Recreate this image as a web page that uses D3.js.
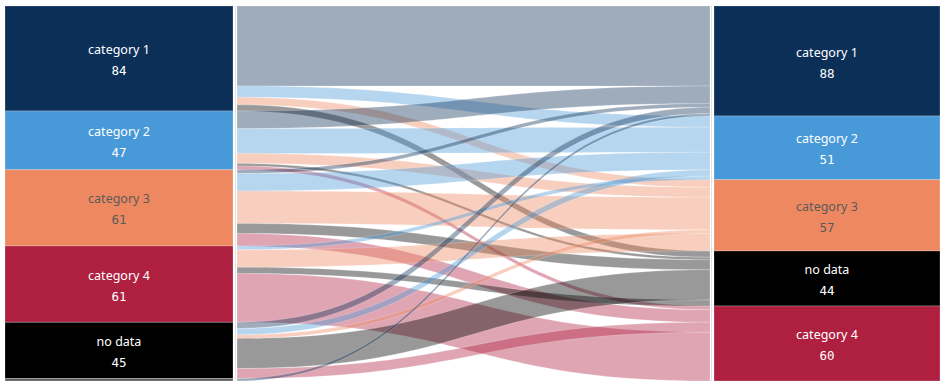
<!DOCTYPE html>
<html>
<head>
<meta charset="utf-8">
<script src="https://cdn.jsdelivr.net/npm/d3@7"></script>
<style>
  body { margin: 0; background: #fff; }
  .node-label { font-family: "Noto Sans", sans-serif; font-size: 12.5px; }
  .node-value { font-family: "DejaVu Sans Mono", monospace; font-size: 12.5px; }
</style>
</head>
<body>
<script>
const w = 941;
const h = 387;

// left column (sources), top to bottom
const leftCats = ["category 1", "category 2", "category 3", "category 4", "no data", "other"];
// right column (targets), top to bottom
const rightCats = ["category 1", "category 2", "category 3", "no data", "category 4"];

// flow values: rows = left categories, columns = right categories
const flowValues = [
  [64, 9, 6, 5, 0],
  [14, 20, 8, 2, 3],
  [3, 14, 26, 8, 10],
  [0, 3, 14, 5, 39],
  [5, 5, 3, 24, 8],
  [2, 0, 0, 0, 0]
];

const colors = {
  "category 1": "#0c2f58",
  "category 2": "#4899d8",
  "category 3": "#ed8860",
  "category 4": "#ae1f40",
  "no data": "#000000",
  "other": "#5e5e5e"
};
const darkText = { "category 3": "#5b5b5b" };

const leftTotals = flowValues.map(r => d3.sum(r));
const rightTotals = rightCats.map((c, j) => d3.sum(flowValues, r => r[j]));
const total = d3.sum(leftTotals);

const y = d3.scaleLinear().domain([0, total]).range([6, 381]);

const leftX = [5, 233], flowX = [237, 710], rightX = [714, 940];

const svg = d3.select("body").append("svg").attr("width", w).attr("height", h);

function stackNodes(cats, totals, xr) {
  const ends = d3.cumsum(totals);
  return cats.map((c, i) => ({
    name: c, value: totals[i], x0: xr[0], x1: xr[1],
    v0: ends[i] - totals[i], v1: ends[i]
  }));
}
const leftNodes = stackNodes(leftCats, leftTotals, leftX);
const rightNodes = stackNodes(rightCats, rightTotals, rightX);

// order key shared by both ends (right column order, "other" last)
const orderKey = c => rightCats.indexOf(c) < 0 ? 99 : rightCats.indexOf(c);

// build links
let links = [];
flowValues.forEach((row, i) => row.forEach((v, j) => {
  if (v > 0) links.push({ source: leftNodes[i], target: rightNodes[j], value: v });
}));

// outgoing offsets
leftNodes.forEach(n => {
  let off = n.v0;
  links.filter(l => l.source === n)
    .sort((a, b) => orderKey(a.target.name) - orderKey(b.target.name))
    .forEach(l => { l.s0 = off; off += l.value; l.s1 = off; });
});
// incoming offsets
rightNodes.forEach(n => {
  let off = n.v0;
  links.filter(l => l.target === n)
    .sort((a, b) => orderKey(a.source.name) - orderKey(b.source.name))
    .forEach(l => { l.t0 = off; off += l.value; l.t1 = off; });
});

function ribbon(l) {
  const x0 = flowX[0], x1 = flowX[1], xm = (x0 + x1) / 2;
  const p = d3.path();
  p.moveTo(x0, y(l.s0));
  p.bezierCurveTo(xm, y(l.s0), xm, y(l.t0), x1, y(l.t0));
  p.lineTo(x1, y(l.t1));
  p.bezierCurveTo(xm, y(l.t1), xm, y(l.s1), x0, y(l.s1));
  p.closePath();
  return p.toString();
}

svg.append("g")
  .selectAll("path")
  .data(links)
  .enter()
  .append("path")
  .attr("d", ribbon)
  .attr("fill", d => colors[d.target.name])
  .attr("fill-opacity", 0.4)
  .attr("stroke", "#fff")
  .attr("stroke-opacity", 0.5)
  .attr("stroke-width", 0.4);

// thin guide lines next to the flows
svg.append("g")
  .selectAll("line")
  .data([235.5, 711.5])
  .enter()
  .append("line")
  .attr("x1", d => d).attr("x2", d => d)
  .attr("y1", y(0)).attr("y2", y(total))
  .attr("stroke", "#e2e2e2")
  .attr("stroke-width", 1);

const nodes = leftNodes.concat(rightNodes);

const ng = svg.append("g")
  .selectAll("g")
  .data(nodes)
  .enter()
  .append("g");

ng.append("rect")
  .attr("x", d => d.x0)
  .attr("y", d => y(d.v0))
  .attr("width", d => d.x1 - d.x0)
  .attr("height", d => y(d.v1) - y(d.v0))
  .attr("fill", d => colors[d.name])
  .attr("stroke", "rgba(255,255,255,0.3)")
  .attr("stroke-width", 0.8);

const labelled = ng.filter(d => y(d.v1) - y(d.v0) > 30);

labelled.append("text")
  .attr("class", "node-label")
  .attr("x", d => (d.x0 + d.x1) / 2)
  .attr("y", d => (y(d.v0) + y(d.v1)) / 2 - 4.5)
  .attr("text-anchor", "middle")
  .attr("fill", d => darkText[d.name] || "#fff")
  .text(d => d.name);

labelled.append("text")
  .attr("class", "node-value")
  .attr("x", d => (d.x0 + d.x1) / 2)
  .attr("y", d => (y(d.v0) + y(d.v1)) / 2 + 16.5)
  .attr("text-anchor", "middle")
  .attr("fill", d => darkText[d.name] || "#fff")
  .text(d => d.value);
</script>
</body>
</html>
